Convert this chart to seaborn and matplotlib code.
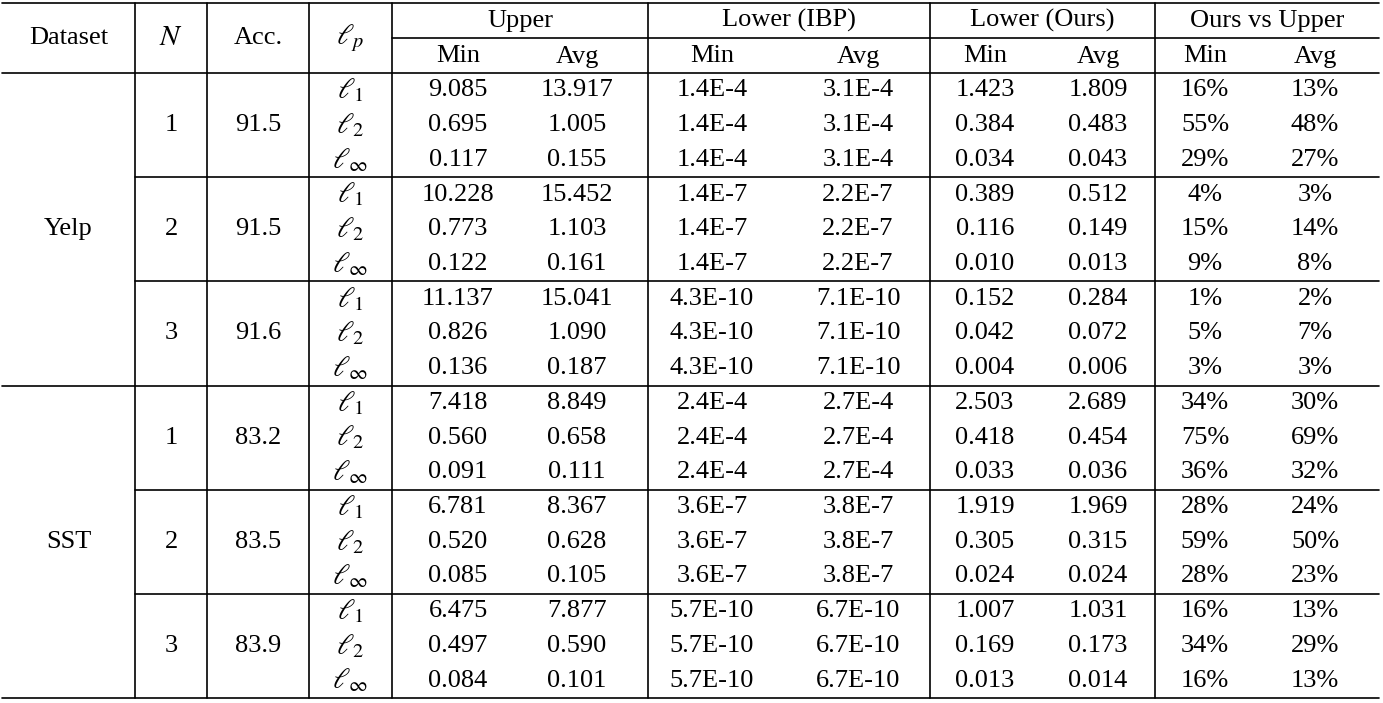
import matplotlib
matplotlib.use("Agg")
import matplotlib.pyplot as plt
import seaborn as sns

sns.set_theme(style="white")
plt.rcParams['font.family'] = ['Liberation Serif', 'DejaVu Serif']
plt.rcParams['mathtext.fontset'] = 'stix'
plt.rcParams['text.color'] = 'black'

# ---------------------------
# Datos de la tabla
# ---------------------------
datasets = ["Yelp", "SST"]
n_vals = ["1", "2", "3"]
acc = [["91.5", "91.5", "91.6"], ["83.2", "83.5", "83.9"]]
normas = [r"$\ell_1$", r"$\ell_2$", r"$\ell_\infty$"]

upper_min = ["9.085", "0.695", "0.117", "10.228", "0.773", "0.122", "11.137", "0.826", "0.136",
             "7.418", "0.560", "0.091", "6.781", "0.520", "0.085", "6.475", "0.497", "0.084"]
upper_avg = ["13.917", "1.005", "0.155", "15.452", "1.103", "0.161", "15.041", "1.090", "0.187",
             "8.849", "0.658", "0.111", "8.367", "0.628", "0.105", "7.877", "0.590", "0.101"]
ibp_min = ["1.4E-4"] * 3 + ["1.4E-7"] * 3 + ["4.3E-10"] * 3 + ["2.4E-4"] * 3 + ["3.6E-7"] * 3 + ["5.7E-10"] * 3
ibp_avg = ["3.1E-4"] * 3 + ["2.2E-7"] * 3 + ["7.1E-10"] * 3 + ["2.7E-4"] * 3 + ["3.8E-7"] * 3 + ["6.7E-10"] * 3
ours_min = ["1.423", "0.384", "0.034", "0.389", "0.116", "0.010", "0.152", "0.042", "0.004",
            "2.503", "0.418", "0.033", "1.919", "0.305", "0.024", "1.007", "0.169", "0.013"]
ours_avg = ["1.809", "0.483", "0.043", "0.512", "0.149", "0.013", "0.284", "0.072", "0.006",
            "2.689", "0.454", "0.036", "1.969", "0.315", "0.024", "1.031", "0.173", "0.014"]
vs_min = ["16%", "55%", "29%", "4%", "15%", "9%", "1%", "5%", "3%",
          "34%", "75%", "36%", "28%", "59%", "28%", "16%", "34%", "16%"]
vs_avg = ["13%", "48%", "27%", "3%", "14%", "8%", "2%", "7%", "3%",
          "30%", "69%", "32%", "24%", "50%", "23%", "13%", "29%", "13%"]

grupos = ["Upper", "Lower (IBP)", "Lower (Ours)", "Ours vs Upper"]

# ---------------------------
# Geometría (píxeles)
# ---------------------------
W, H = 1383, 703
fig = plt.figure(figsize=(W / 100, H / 100), dpi=100)
ax = fig.add_axes([0, 0, 1, 1])
ax.set_xlim(0, W)
ax.set_ylim(H, 0)
ax.axis("off")

fs = 19
lw = 1.2
x_izq, x_der = 2, 1379
vx = [135, 207, 309, 392, 648, 930, 1155]
sub_x = [458, 577, 712, 858, 985, 1098, 1205, 1315]
y_top, y_grupo, y0 = 3, 38, 73
pitch = (698 - y0) / 18

def line(x1, x2, y):
    ax.plot([x1, x2], [y, y], color="black", lw=lw)

def vline(x, ya, yb):
    ax.plot([x, x], [ya, yb], color="black", lw=lw)

bottom = y0 + 18 * pitch
line(x_izq, x_der, y_top)
line(vx[3], x_der, y_grupo)
line(x_izq, x_der, y0)
line(x_izq, x_der, bottom)
for x in vx:
    vline(x, y_top, bottom)

cab_c = (y_top + y0) / 2
for i, g in enumerate(grupos):
    ax.text((vx[3 + i] + (vx + [x_der])[4 + i]) / 2, (y_top + y_grupo) / 2, g,
            ha="center", va="center", fontsize=fs)
    for j, t in enumerate(["Min", "Avg"]):
        ax.text(sub_x[2 * i + j], (y_grupo + y0) / 2 + 1, t, ha="center", va="center", fontsize=fs)
ax.text((x_izq + vx[0]) / 2, cab_c, "Dataset", ha="center", va="center", fontsize=fs)
ax.text((vx[0] + vx[1]) / 2, cab_c, "$N$", ha="center", va="center", fontsize=fs + 2)
ax.text((vx[1] + vx[2]) / 2, cab_c, "Acc.", ha="center", va="center", fontsize=fs)
ax.text((vx[2] + vx[3]) / 2, cab_c, r"$\ell_p$", ha="center", va="center", fontsize=fs + 2)

columnas = [upper_min, upper_avg, ibp_min, ibp_avg, ours_min, ours_avg, vs_min, vs_avg]

for d, nombre in enumerate(datasets):
    ytop = y0 + d * 9 * pitch
    if d > 0:
        line(x_izq, x_der, ytop)
    ax.text((x_izq + vx[0]) / 2, ytop + 4.5 * pitch, nombre, ha="center", va="center", fontsize=fs)
    for b in range(3):
        yb = ytop + b * 3 * pitch
        if b > 0:
            line(vx[0], x_der, yb)
        ax.text((vx[0] + vx[1]) / 2, yb + 1.5 * pitch, n_vals[b], ha="center", va="center", fontsize=fs)
        ax.text((vx[1] + vx[2]) / 2, yb + 1.5 * pitch, acc[d][b], ha="center", va="center", fontsize=fs)
        for r in range(3):
            k = d * 9 + b * 3 + r
            yc = yb + (r + 0.5) * pitch
            ax.text((vx[2] + vx[3]) / 2, yc, normas[r], ha="center", va="center", fontsize=fs + 2)
            for c, col in enumerate(columnas):
                ax.text(sub_x[c], yc, col[k], ha="center", va="center", fontsize=fs)

fig.savefig("out.png", dpi=100)
